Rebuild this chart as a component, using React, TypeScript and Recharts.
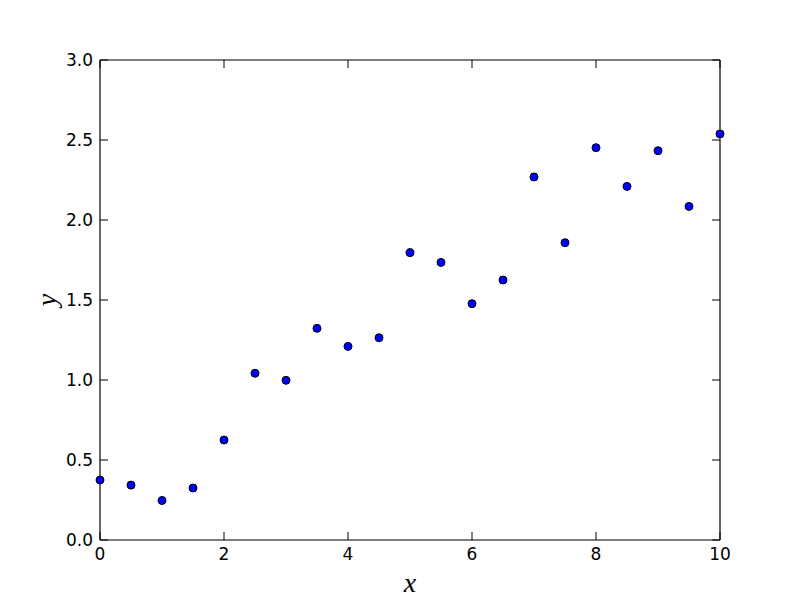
import React from 'react';
import { ScatterChart, Scatter, XAxis, YAxis, Label } from 'recharts';

const xValues = [0, 0.5, 1, 1.5, 2, 2.5, 3, 3.5, 4, 4.5, 5, 5.5, 6, 6.5, 7, 7.5, 8, 8.5, 9, 9.5, 10];
const yValues = [
  0.375, 0.343, 0.247, 0.325, 0.625, 1.042, 0.998, 1.323, 1.21, 1.264, 1.796,
  1.735, 1.477, 1.625, 2.269, 1.858, 2.452, 2.21, 2.433, 2.085, 2.538,
];
const xTicks = [0, 2, 4, 6, 8, 10];
const yTicks = [0, 0.5, 1, 1.5, 2, 2.5, 3];
const yTickLabels = ['0.0', '0.5', '1.0', '1.5', '2.0', '2.5', '3.0'];

const points = xValues.map((x, i) => ({ x, y: yValues[i] }));

const TICK_LEN = 8;
const FONT = '"DejaVu Sans", sans-serif';

function BottomTick(props: any) {
  const { x, y, payload } = props;
  return (
    <g>
      <line x1={x} y1={y} x2={x} y2={y - TICK_LEN} stroke="#000" strokeWidth={1} />
      <text x={x} y={y + 20} textAnchor="middle" fontSize={17} fontFamily={FONT} fill="#000">
        {payload.value}
      </text>
    </g>
  );
}

function TopTick(props: any) {
  const { x, y } = props;
  return <line x1={x} y1={y} x2={x} y2={y + TICK_LEN} stroke="#000" strokeWidth={1} />;
}

function LeftTick(props: any) {
  const { x, y, payload } = props;
  const idx = yTicks.indexOf(payload.value);
  return (
    <g>
      <line x1={x} y1={y} x2={x + TICK_LEN} y2={y} stroke="#000" strokeWidth={1} />
      <text x={x - 7} y={y + 6} textAnchor="end" fontSize={17} fontFamily={FONT} fill="#000">
        {idx >= 0 ? yTickLabels[idx] : payload.value}
      </text>
    </g>
  );
}

function RightTick(props: any) {
  const { x, y } = props;
  return <line x1={x} y1={y} x2={x - TICK_LEN} y2={y} stroke="#000" strokeWidth={1} />;
}

function Dot(props: any) {
  const { cx, cy } = props;
  return <circle cx={cx} cy={cy} r={4} fill="#0000ff" stroke="#000" strokeWidth={1} />;
}

function NoDot() {
  return <g />;
}

export default function App() {
  return (
    <div style={{ width: 800, height: 600, background: '#fff', margin: -8 }}>
      <ScatterChart width={800} height={600} margin={{ top: 59, right: 79, bottom: 20, left: 40 }}>
        <XAxis
          type="number"
          dataKey="x"
          xAxisId="bottom"
          domain={[0, 10]}
          ticks={xTicks}
          interval={0}
          height={40}
          tickSize={0}
          tickMargin={0}
          tickLine={false}
          axisLine={{ stroke: '#000', strokeWidth: 1.2 }}
          tick={<BottomTick />}
        >
          <Label
            value="x"
            position="insideBottom"
            offset={-12}
            style={{ fontFamily: '"Liberation Serif", serif', fontStyle: 'italic', fontSize: 28, fill: '#000' }}
          />
        </XAxis>
        <XAxis
          type="number"
          dataKey="x"
          xAxisId="top"
          orientation="top"
          domain={[0, 10]}
          ticks={xTicks}
          interval={0}
          height={1}
          tickSize={0}
          tickMargin={0}
          tickLine={false}
          axisLine={{ stroke: '#000', strokeWidth: 1.2 }}
          tick={<TopTick />}
        />
        <YAxis
          type="number"
          dataKey="y"
          yAxisId="left"
          domain={[0, 3]}
          ticks={yTicks}
          interval={0}
          width={60}
          tickSize={0}
          tickMargin={0}
          tickLine={false}
          axisLine={{ stroke: '#000', strokeWidth: 1.2 }}
          tick={<LeftTick />}
        >
          <Label
            value="y"
            angle={-90}
            position="insideLeft"
            offset={6}
            style={{ fontFamily: '"Liberation Serif", serif', fontStyle: 'italic', fontSize: 28, fill: '#000', textAnchor: 'middle' }}
          />
        </YAxis>
        <YAxis
          type="number"
          dataKey="y"
          yAxisId="right"
          orientation="right"
          domain={[0, 3]}
          ticks={yTicks}
          interval={0}
          width={1}
          tickSize={0}
          tickMargin={0}
          tickLine={false}
          axisLine={{ stroke: '#000', strokeWidth: 1.2 }}
          tick={<RightTick />}
        />
        <Scatter
          data={points}
          xAxisId="top"
          yAxisId="right"
          shape={<NoDot />}
          isAnimationActive={false}
        />
        <Scatter
          data={points}
          xAxisId="bottom"
          yAxisId="left"
          shape={<Dot />}
          isAnimationActive={false}
        />
      </ScatterChart>
    </div>
  );
}
